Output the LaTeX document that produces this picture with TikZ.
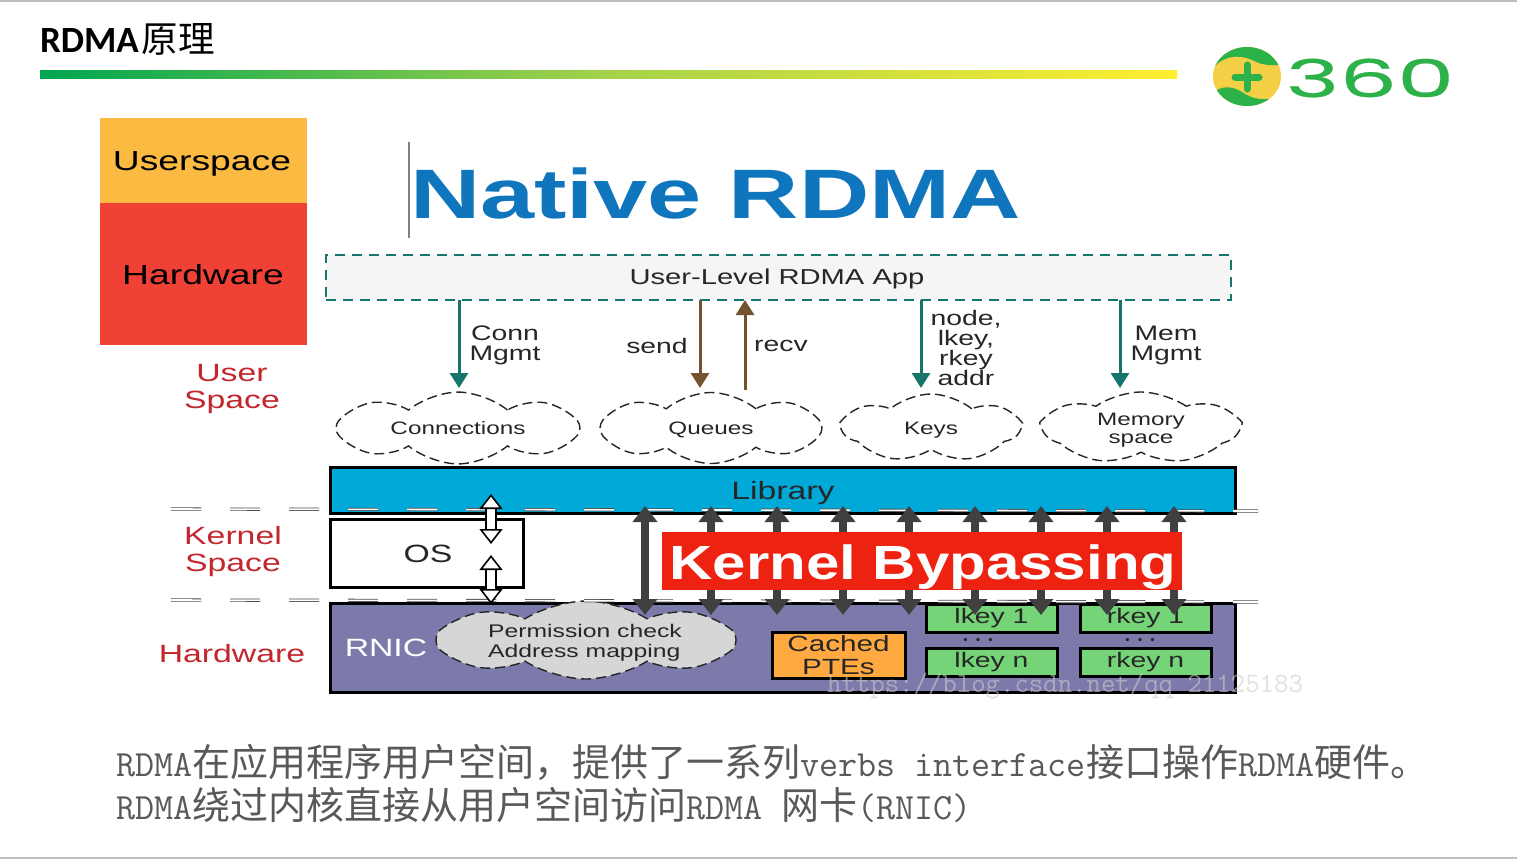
\documentclass[tikz,border=0pt]{standalone}
\usepackage{fontspec}
\usetikzlibrary{positioning, shapes, arrows.meta}
\setmainfont{Liberation Sans}
\newfontfamily\diag{Liberation Sans}[FakeStretch=1.35]
\newfontfamily\titlefont{Liberation Sans}[FakeStretch=1.39]
\newfontfamily\bypassfont{Liberation Sans}[FakeStretch=1.25]
\newfontfamily\cjk{Noto Sans CJK SC}
\newfontfamily\head{Carlito}
\newfontfamily\logofont{Poppins}[FakeStretch=1.75, FakeBold=0.6]
\setmonofont{Latin Modern Mono}
\newcommand{\fs}[1]{\fontsize{#1}{#1}\selectfont}
\definecolor{tealline}{HTML}{17766C}
\definecolor{brownline}{HTML}{74532F}
\definecolor{darkarrow}{HTML}{404040}
\definecolor{libblue}{HTML}{00A9D8}
\definecolor{rnicblue}{HTML}{7B7AAB}
\definecolor{keygreen}{HTML}{75D478}
\definecolor{pteorange}{HTML}{FFA940}
\definecolor{labelred}{HTML}{C1272D}
\definecolor{logogreen}{HTML}{2DB24A}
\definecolor{logoyellow}{HTML}{F5CF45}
\definecolor{baryellow}{HTML}{FFEE30}
\definecolor{barmid}{HTML}{A5D24A}
\definecolor{bargreen}{HTML}{00A651}
\definecolor{userorange}{HTML}{FBBA42}
\definecolor{hwred}{HTML}{EF4136}
\definecolor{titleblue}{HTML}{0F75BC}
\definecolor{bypassred}{HTML}{EE2210}
\begin{document}
\begin{tikzpicture}[x=1pt, y=-1pt, inner sep=0pt, outer sep=0pt,
      txt/.style={font=\diag\fs{21}, text=black!85, align=center},
      side/.style={font=\diag\fs{25}, text=labelred, align=center},
      block/.style={draw=black, line width=3pt, anchor=north west},
      key/.style={block, fill=keygreen, minimum width=131pt, minimum height=28pt, font=\diag\fs{21}, text=black!85},
      puff/.style={cloud, cloud puffs=8, cloud puff arc=80, aspect=3.9, draw=black!85, dashed, dash pattern=on 10pt off 5pt, line width=1.4pt, font=\diag\fs{18}, text=black!85, align=center},
      down/.style={-{Triangle[width=18pt,length=15pt]}, line width=3pt},
      bypass/.style={{Triangle[width=24pt,length=16pt]}-{Triangle[width=24pt,length=16pt]}, line width=7.5pt, darkarrow},
      osarrow/.style={{Triangle[width=23pt,length=15pt,fill=white]}-{Triangle[width=23pt,length=15pt,fill=white]}, line width=1.6pt, double=white, double distance=8pt, black},
      split/.style={line width=.8pt, black!70, double=white, double distance=1.6pt, dash pattern=on 30pt off 29pt}]
      \useasboundingbox (0,0) rectangle (1517,860);
      \fill[white] (0,0) rectangle (1517,860);
      % page frame, heading, bar
      \draw[black!25, line width=1.5pt] (0,1) -- (1517,1);
      \draw[black!25, line width=1.5pt] (0,858) -- (1517,858);
      \node[anchor=base west, font=\head\bfseries\fs{37}] (heading) at(40,52) {RDMA\hspace{3pt}{\cjk\mdseries\fs{36.5}原理}};
      \shade[left color=bargreen, right color=baryellow, middle color=barmid] (40,70) rectangle (1177,78);
      % logo
      \fill[logoyellow] (1247,76.5) ellipse [x radius=34, y radius=29.5];
      \begin{scope}
        \clip (1247,76.5) ellipse [x radius=34, y radius=29.5];
        \fill[logogreen] (1210,72) .. controls (1222,55) and (1238,54) .. (1252,60) .. controls (1264,66) and (1272,66) .. (1285,64) -- (1285,40) -- (1210,40) -- cycle;
        \fill[logogreen] (1210,96) .. controls (1220,84) and (1232,86) .. (1242,92) .. controls (1252,99) and (1264,102) .. (1285,96) -- (1285,112) -- (1210,112) -- cycle;
      \end{scope}
      \draw[logogreen, line width=7pt, line cap=round] (1235,77) -- (1259,77);
      \draw[logogreen, line width=7pt, line cap=round] (1247,65) -- (1247,89);
      \node[font=\logofont\fs{52}, text=logogreen] (logo) at(1370,78) {360};
      % left blocks
      \node[anchor=north west, fill=userorange, minimum width=207pt, minimum height=85pt] (userspace) at(100,118) {};
      \node[font=\diag\fs{27.6}] (userspacetxt) at(202,164) {Userspace};
      \node[anchor=north west, fill=hwred, minimum width=207pt, minimum height=142pt] (hardware) at(100,203) {};
      \node[font=\diag\fs{27.6}] (hardwaretxt) at(203,275) {Hardware};
      % title
      \draw[black!50, line width=1.2pt] (409,142) -- (409,238);
      \node[anchor=base west, font=\titlefont\bfseries\fs{70}, text=titleblue] (title) at(410,218) {Native RDMA};
      % app, clouds
      \node[anchor=north west, draw=tealline, fill=black!4, dashed, dash pattern=on 10pt off 7pt, line width=2pt, minimum width=905pt, minimum height=45pt] (app) at(326,255) {};
      \node[font=\diag\fs{21.6}, text=black!85] (apptxt) at(777,279) {User-Level RDMA App};
      \node[puff, minimum width=244pt, minimum height=71pt] (conn) at(458,428) {Connections};
      \node[puff, minimum width=222pt, minimum height=71pt, aspect=3.6, text depth=0pt] (queues) at(711,428) {Queues};
      \node[puff, minimum width=176pt, minimum height=68pt, aspect=3, cloud puffs=7, text depth=0pt] (keys) at(931,428) {Keys};
      \node[puff, minimum width=194pt, minimum height=72pt, aspect=3, cloud puffs=7, cloud puff arc=70] (mem) at(1141,428) {};
      \node[font=\diag\fs{18}, text=black!85, align=center] (memtxt) at(1141,430) {Memory\\space};
      % arrows from app
      \coordinate (connin) at(459,388);
      \coordinate (sendin) at(700,388);
      \coordinate (recvout) at(745,390);
      \coordinate (keysin) at(921,388);
      \coordinate (memin) at(1120,388);
      \path[down, tealline] (app.south -| connin) edge (connin);
      \path[down, brownline] (app.south -| sendin) edge (sendin);
      \path[down, brownline] (recvout) edge (app.south -| recvout);
      \path[down, tealline] (app.south -| keysin) edge (keysin);
      \path[down, tealline] (app.south -| memin) edge (memin);
      \node[txt] (connlab) at(505,345) {Conn\\[-1pt]Mgmt};
      \node[txt] (sendlab) at(657,346) {send};
      \node[txt] (recvlab) at(781,346) {recv};
      \node[txt] (keylab) at(966,348) {node,\\[-1pt]lkey,\\[-1pt]rkey\\[-1pt]addr};
      \node[txt] (memlab) at(1166,345) {Mem\\[-1pt]Mgmt};
      % layers
      \node[block, fill=libblue, minimum width=905pt, minimum height=46pt] (library) at(330.5,467) {};
      \node[font=\diag\fs{25}, text=black!85] (libtxt) at(783,493) {Library};
      \node[block, fill=white, minimum width=193pt, minimum height=68pt] (os) at(330.5,519) {};
      \node[font=\diag\fs{25}, text=black!85] (ostxt) at(428,554) {OS};
      \node[block, fill=rnicblue, minimum width=905pt, minimum height=89pt] (rnic) at(330.5,603) {};
      \node[font=\diag\fs{25}, text=white] (rnictxt) at(386,648) {RNIC};
      \node[puff, fill=black!16, cloud puffs=8, cloud puff arc=65, aspect=3.9, minimum width=300pt, minimum height=78pt] (perm) at(586,640) {};
      \node[font=\diag\fs{18.3}, text=black!85, align=left] (permtxt) at(585,643) {Permission check\\[1.5pt]Address mapping};
      \node[block, fill=pteorange, minimum width=133pt, minimum height=46pt, font=\diag\fs{22}, text=black!85, align=center] (pte) at(772,632) {Cached\\[1pt]PTEs};
      \node[key] (lkey1) at(926,604) {lkey 1};
      \node[key] (lkeyn) at(926,648) {lkey n};
      \node[key] (rkey1) at(1080,604) {rkey 1};
      \node[key] (rkeyn) at(1080,648) {rkey n};
      \node[font=\head\bfseries\fs{22}, text=black!85] (ldots) at(978,640) {. . .};
      \node[font=\head\bfseries\fs{22}, text=black!85] (rdots) at(1140,640) {. . .};
      \node[font=\ttfamily\fs{28}, text=white!80!black, opacity=.6] (mark) at(1065,686) {https://blog.csdn.net/qq 21125183};
      % kernel boundary
      \coordinate (topl) at(171,509);
      \coordinate (topr) at(1258,511);
      \coordinate (botl) at(171,600);
      \coordinate (botr) at(1258,602);
      \draw[split] (topl) -- (topr);
      \draw[split] (botl) -- (botr);
      % arrows through the os
      \coordinate (osa) at(491,494);
      \coordinate (osb) at(491,544);
      \coordinate (osc) at(491,555);
      \coordinate (osd) at(491,604);
      \draw[osarrow] (osa) -- (osb);
      \draw[osarrow] (osc) -- (osd);
      % bypass arrows
      \coordinate (a1) at(645,506);
      \coordinate (b1) at(645,615);
      \coordinate (a2) at(711,506);
      \coordinate (b2) at(711,615);
      \coordinate (a3) at(777,506);
      \coordinate (b3) at(777,615);
      \coordinate (a4) at(843,506);
      \coordinate (b4) at(843,615);
      \coordinate (a5) at(909,506);
      \coordinate (b5) at(909,615);
      \coordinate (a6) at(975,506);
      \coordinate (b6) at(975,615);
      \coordinate (a7) at(1041,506);
      \coordinate (b7) at(1041,615);
      \coordinate (a8) at(1107,506);
      \coordinate (b8) at(1107,615);
      \coordinate (a9) at(1174,506);
      \coordinate (b9) at(1174,615);
      \path[bypass] (a1) edge (b1);
      \path[bypass] (a2) edge (b2);
      \path[bypass] (a3) edge (b3);
      \path[bypass] (a4) edge (b4);
      \path[bypass] (a5) edge (b5);
      \path[bypass] (a6) edge (b6);
      \path[bypass] (a7) edge (b7);
      \path[bypass] (a8) edge (b8);
      \path[bypass] (a9) edge (b9);
      \node[anchor=north west, fill=bypassred, minimum width=520pt, minimum height=58pt] (bypassbox) at(662,532) {};
      \node[anchor=base, font=\bypassfont\bfseries\fs{48}, text=white] (bypasslab) at(923,579) {Kernel Bypassing};
      % side labels
      \node[side] (userlab) at(232,389) {User\\[2pt]Space};
      \node[side] (kernellab) at(233,552) {Kernel\\[2pt]Space};
      \node[side] (hwlab) at(232,654) {Hardware};
      % bottom text
      \node[anchor=base west, font=\ttfamily\fs{37}, text=black!65] (line1) at(116,776) {RDMA{\cjk\fs{38}在应用程序用户空间，提供了一系列}verbs interface{\cjk\fs{38}接口操作}RDMA{\cjk\fs{38}硬件。}};
      \node[anchor=base west, font=\ttfamily\fs{37}, text=black!65] (line2) at(116,819) {RDMA{\cjk\fs{38}绕过内核直接从用户空间访问}RDMA {\cjk\fs{38}网卡}(RNIC)};
\end{tikzpicture}
\end{document}
